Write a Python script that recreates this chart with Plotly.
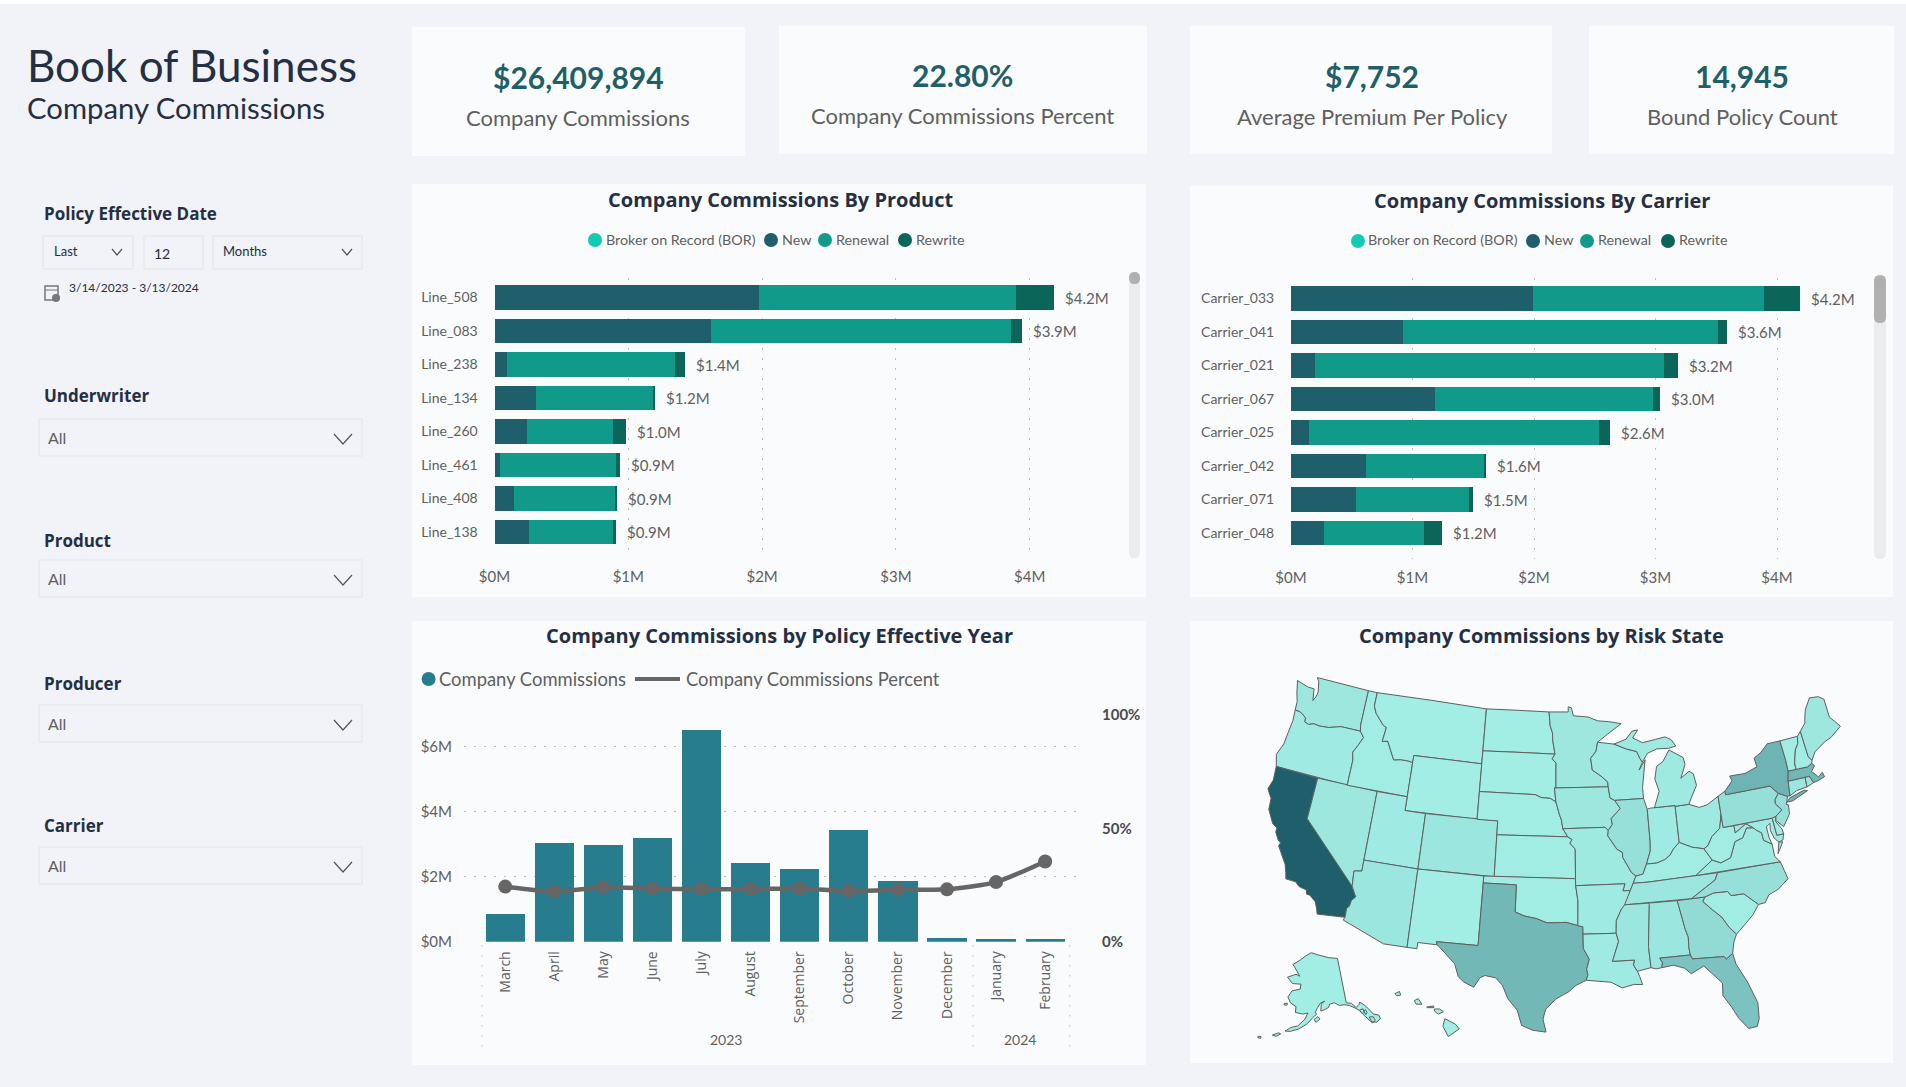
"""Book of Business dashboard rebuilt in Plotly"""

import plotly.graph_objects as go
from plotly.colors import sample_colorscale

WIDTH = 1906
HEIGHT = 1087

PAGE_BG = "#F1F3F8"
CARD_BG = "#FAFBFD"
DARK = "#252F43"
GREY = "#5F5F5F"
DIN = "Lato"
SEGOE = "Open Sans"

SEGMENTS = ["Broker on Record (BOR)", "New", "Renewal", "Rewrite"]
SEGMENT_COLORS = ["#13CBB5", "#1F5F6B", "#119A89", "#0B6559"]

products = ["Line_508", "Line_083", "Line_238", "Line_134", "Line_260", "Line_461", "Line_408", "Line_138"]
product_bor = [0, 0, 0, 0, 0, 0, 0, 0]
product_new = [1.975, 1.616, 0.09, 0.308, 0.246, 0.043, 0.149, 0.261]
product_renewal = [1.92, 2.243, 1.26, 0.877, 0.641, 0.862, 0.754, 0.627]
product_rewrite = [0.283, 0.08, 0.07, 0.018, 0.098, 0.036, 0.011, 0.018]

carriers = ["Carrier_033", "Carrier_041", "Carrier_021", "Carrier_067", "Carrier_025", "Carrier_042", "Carrier_071", "Carrier_048"]
carrier_bor = [0, 0, 0, 0, 0, 0, 0, 0]
carrier_new = [1.989, 0.922, 0.198, 1.185, 0.149, 0.617, 0.533, 0.27]
carrier_renewal = [1.901, 2.594, 2.869, 1.798, 2.385, 0.975, 0.933, 0.823]
carrier_rewrite = [0.297, 0.069, 0.118, 0.053, 0.091, 0.011, 0.03, 0.149]

months = ["March", "April", "May", "June", "July", "August", "September", "October", "November", "December", "January", "February"]
month_commissions = [0.85, 3.04, 2.97, 3.19, 6.51, 2.42, 2.24, 3.44, 1.87, 0.11, 0.08, 0.08]
month_percent = [24.3, 22.1, 24.0, 23.4, 23.2, 23.2, 23.5, 22.4, 22.9, 23.1, 26.3, 35.4]

kpi_values = ["$26,409,894", "22.80%", "$7,752", "14,945"]
kpi_labels = ["Company Commissions", "Company Commissions Percent", "Average Premium Per Policy", "Bound Policy Count"]

# shade of each state on a 0-100 scale, estimated from the map colours
state_shade = {
    "CA": 100, "TX": 37, "NY": 40, "MA": 38, "FL": 30, "GA": 13, "IL": 9, "PA": 10, "NC": 9, "NJ": 10, "CT": 5, "CO": 5,
    "WA": 4, "MN": 4, "AZ": 5, "AL": 5, "MS": 5, "ME": 4, "NV": 4, "IA": 4, "TN": 5, "MI": 3, "OR": 2, "MO": 3, "OH": 3, "VA": 3,
    "UT": 2, "ID": 1, "WI": 2, "IN": 2, "KY": 1, "LA": 2, "AR": 2, "OK": 1, "KS": 1, "NE": 1, "SC": 1, "WV": 1, "MD": 2, "DE": 1,
    "NH": 1, "VT": 1, "RI": 5, "MT": 0, "WY": 0, "NM": 0, "ND": 0, "SD": 0, "AK": 0, "HI": 0,
}

# state outlines (lon, lat), there is no offline basemap so these go through the geo projection as filled traces
state_outlines = {
    "WA": [[(-124.73, 48.38), (-123.5, 48.15), (-122.76, 48.14), (-122.55, 47.3), (-122.35, 47.6), (-122.25, 48.0), (-122.5, 48.75), (-122.76, 49.0),
            (-117.03, 49.0), (-117.04, 46.43), (-116.92, 46.0), (-118.98, 46.0), (-119.3, 45.93), (-120.2, 45.72), (-121.2, 45.65), (-121.8, 45.7),
            (-122.3, 45.55), (-122.75, 45.65), (-122.8, 45.95), (-123.2, 46.15), (-123.55, 46.26), (-124.05, 46.27), (-124.1, 46.9), (-124.4, 47.5)]],
    "OR": [[(-124.05, 46.27), (-123.55, 46.26), (-123.2, 46.15), (-122.8, 45.95), (-122.75, 45.65), (-122.3, 45.55), (-121.8, 45.7), (-121.2, 45.65),
            (-120.2, 45.72), (-119.3, 45.93), (-118.98, 46.0), (-116.92, 46.0), (-116.47, 45.6), (-116.85, 44.95), (-117.22, 44.4), (-117.03, 43.85),
            (-117.03, 42.0), (-124.21, 42.0), (-124.55, 42.84), (-124.15, 43.7), (-124.05, 44.7), (-123.95, 45.5)]],
    "CA": [[(-124.21, 42.0), (-120.0, 42.0), (-120.0, 39.0), (-114.63, 35.0), (-114.14, 34.3), (-114.45, 34.0), (-114.53, 33.55), (-114.72, 33.4),
            (-114.72, 32.72), (-117.12, 32.53), (-117.25, 32.85), (-117.5, 33.35), (-118.1, 33.73), (-118.4, 33.75), (-118.5, 34.03), (-119.2, 34.15),
            (-119.6, 34.42), (-120.5, 34.45), (-120.65, 34.9), (-120.9, 35.45), (-121.9, 36.6), (-121.8, 36.85), (-122.05, 36.95), (-122.5, 37.5),
            (-122.5, 37.8), (-122.97, 38.0), (-123.7, 38.9), (-123.8, 39.7), (-124.35, 40.3), (-124.1, 41.0)]],
    "NV": [[(-120.0, 42.0), (-114.04, 42.0), (-114.04, 36.2), (-114.74, 36.1), (-114.63, 35.0), (-120.0, 39.0)]],
    "ID": [[(-117.03, 49.0), (-116.05, 49.0), (-116.05, 48.0), (-115.7, 47.5), (-114.7, 46.75), (-114.35, 46.65), (-114.5, 45.6), (-113.95, 45.7),
            (-113.45, 45.05), (-113.0, 44.45), (-112.3, 44.55), (-111.5, 44.55), (-111.05, 44.48), (-111.05, 42.0), (-117.03, 42.0), (-117.03, 43.85),
            (-117.22, 44.4), (-116.85, 44.95), (-116.47, 45.6), (-116.92, 46.0), (-117.04, 46.43)]],
    "MT": [[(-116.05, 49.0), (-104.05, 49.0), (-104.05, 45.0), (-111.05, 45.0), (-111.05, 44.48), (-111.5, 44.55), (-112.3, 44.55), (-113.0, 44.45),
            (-113.45, 45.05), (-113.95, 45.7), (-114.5, 45.6), (-114.35, 46.65), (-114.7, 46.75), (-115.7, 47.5), (-116.05, 48.0)]],
    "WY": [[(-111.05, 45.0), (-104.05, 45.0), (-104.05, 41.0), (-111.05, 41.0)]],
    "UT": [[(-114.04, 42.0), (-111.05, 42.0), (-111.05, 41.0), (-109.05, 41.0), (-109.05, 37.0), (-114.04, 37.0)]],
    "CO": [[(-109.05, 41.0), (-102.05, 41.0), (-102.05, 37.0), (-109.05, 37.0)]],
    "AZ": [[(-114.04, 37.0), (-109.05, 37.0), (-109.05, 31.33), (-111.07, 31.33), (-114.81, 32.5), (-114.72, 32.72), (-114.72, 33.4), (-114.53, 33.55),
            (-114.45, 34.0), (-114.14, 34.3), (-114.63, 35.0), (-114.74, 36.1), (-114.04, 36.2)]],
    "NM": [[(-109.05, 37.0), (-103.0, 37.0), (-103.05, 32.0), (-106.62, 32.0), (-106.53, 31.78), (-108.2, 31.78), (-108.2, 31.33), (-109.05, 31.33)]],
    "ND": [[(-104.05, 49.0), (-97.23, 49.0), (-97.1, 48.0), (-96.85, 47.5), (-96.8, 46.9), (-96.56, 45.94), (-104.05, 45.94)]],
    "SD": [[(-104.05, 45.94), (-96.56, 45.94), (-96.85, 45.6), (-96.45, 45.3), (-96.45, 43.5), (-96.6, 43.5), (-96.44, 42.49), (-97.0, 42.75),
            (-97.9, 42.8), (-98.5, 43.0), (-104.05, 43.0)]],
    "NE": [[(-104.05, 43.0), (-98.5, 43.0), (-97.9, 42.8), (-97.0, 42.75), (-96.44, 42.49), (-96.1, 41.6), (-95.9, 41.2), (-95.77, 40.58), (-95.3, 40.0),
            (-102.05, 40.0), (-102.05, 41.0), (-104.05, 41.0)]],
    "KS": [[(-102.05, 40.0), (-95.3, 40.0), (-94.9, 39.8), (-95.1, 39.55), (-94.61, 39.11), (-94.62, 37.0), (-102.05, 37.0)]],
    "OK": [[(-103.0, 37.0), (-94.62, 37.0), (-94.62, 36.5), (-94.43, 35.39), (-94.48, 33.64), (-95.5, 33.88), (-96.6, 33.85), (-97.2, 33.85), (-98.1, 34.13),
            (-99.2, 34.3), (-100.0, 34.56), (-100.0, 36.5), (-103.0, 36.5)]],
    "TX": [[(-103.0, 36.5), (-100.0, 36.5), (-100.0, 34.56), (-99.2, 34.3), (-98.1, 34.13), (-97.2, 33.85), (-96.6, 33.85), (-95.5, 33.88), (-94.48, 33.64),
            (-94.04, 33.55), (-94.04, 33.02), (-94.04, 32.0), (-93.55, 31.2), (-93.8, 30.5), (-93.7, 30.1), (-93.85, 29.7), (-94.7, 29.35), (-95.3, 28.9),
            (-96.4, 28.35), (-97.2, 27.6), (-97.4, 26.9), (-97.15, 25.96), (-98.2, 26.07), (-99.1, 26.4), (-99.5, 27.5), (-100.3, 28.3), (-100.8, 29.25),
            (-101.4, 29.77), (-102.3, 29.88), (-102.7, 29.7), (-103.15, 28.98), (-104.0, 29.3), (-104.5, 29.65), (-104.9, 30.55), (-106.0, 31.4),
            (-106.53, 31.78), (-106.62, 32.0), (-103.05, 32.0)]],
    "MN": [[(-97.23, 49.0), (-95.15, 49.0), (-95.15, 49.38), (-94.8, 49.3), (-94.6, 48.72), (-93.0, 48.6), (-92.0, 48.3), (-90.8, 48.2), (-89.5, 48.0),
            (-91.0, 47.3), (-92.1, 46.75), (-92.3, 46.1), (-92.88, 45.6), (-92.75, 44.75), (-91.9, 44.3), (-91.25, 43.85), (-91.22, 43.5), (-96.45, 43.5),
            (-96.45, 45.3), (-96.85, 45.6), (-96.56, 45.94), (-96.8, 46.9), (-96.85, 47.5), (-97.1, 48.0)]],
    "IA": [[(-96.6, 43.5), (-91.22, 43.5), (-91.1, 42.7), (-90.65, 42.5), (-90.15, 41.9), (-91.1, 41.2), (-91.0, 40.8), (-91.42, 40.38), (-91.73, 40.61),
            (-95.77, 40.58), (-95.9, 41.2), (-96.1, 41.6), (-96.44, 42.49)]],
    "MO": [[(-95.77, 40.58), (-91.73, 40.61), (-91.42, 40.38), (-91.5, 40.0), (-90.7, 39.0), (-90.2, 38.75), (-90.2, 38.4), (-89.5, 37.3), (-89.1, 37.0),
            (-89.4, 36.5), (-89.7, 36.0), (-90.37, 36.0), (-90.15, 36.5), (-94.62, 36.5), (-94.62, 37.0), (-94.61, 39.11), (-95.1, 39.55), (-94.9, 39.8), (-95.3, 40.0)]],
    "AR": [[(-94.62, 36.5), (-90.15, 36.5), (-90.37, 36.0), (-89.7, 36.0), (-90.1, 35.1), (-90.6, 34.7), (-91.1, 33.9), (-91.17, 33.0), (-94.04, 33.02),
            (-94.04, 33.55), (-94.48, 33.64), (-94.43, 35.39)]],
    "LA": [[(-94.04, 33.02), (-91.17, 33.0), (-91.0, 32.4), (-91.6, 31.0), (-89.73, 31.0), (-89.85, 30.65), (-89.55, 30.18), (-89.4, 29.8), (-89.2, 29.2),
            (-89.9, 29.25), (-90.9, 29.05), (-91.8, 29.5), (-92.3, 29.55), (-93.85, 29.7), (-93.7, 30.1), (-93.8, 30.5), (-93.55, 31.2), (-94.04, 32.0)]],
    "WI": [[(-92.1, 46.75), (-90.4, 46.55), (-89.1, 46.13), (-88.1, 45.9), (-87.8, 45.35), (-87.6, 45.1), (-88.0, 44.55), (-87.3, 45.25), (-87.55, 44.3),
            (-87.8, 43.3), (-87.8, 42.49), (-90.65, 42.5), (-91.1, 42.7), (-91.22, 43.5), (-91.25, 43.85), (-91.9, 44.3), (-92.75, 44.75), (-92.88, 45.6), (-92.3, 46.1)]],
    "IL": [[(-90.65, 42.5), (-87.8, 42.49), (-87.53, 41.7), (-87.53, 39.35), (-87.6, 38.7), (-88.05, 37.8), (-88.45, 37.1), (-89.1, 37.0), (-89.5, 37.3),
            (-90.2, 38.4), (-90.2, 38.75), (-90.7, 39.0), (-91.5, 40.0), (-91.42, 40.38), (-91.0, 40.8), (-91.1, 41.2), (-90.15, 41.9)]],
    "IN": [[(-87.53, 41.7), (-87.2, 41.76), (-86.82, 41.76), (-84.8, 41.76), (-84.82, 39.1), (-85.4, 38.7), (-85.8, 38.28), (-86.3, 38.0), (-87.1, 37.8),
            (-88.05, 37.8), (-87.6, 38.7), (-87.53, 39.35)]],
    "OH": [[(-84.8, 41.7), (-83.45, 41.72), (-82.5, 41.4), (-81.7, 41.5), (-80.52, 41.98), (-80.52, 40.64), (-80.85, 39.7), (-81.7, 39.2), (-82.2, 38.6),
            (-82.6, 38.42), (-83.7, 38.65), (-84.82, 39.1)]],
    "KY": [[(-89.4, 36.5), (-89.1, 37.0), (-88.45, 37.1), (-88.05, 37.8), (-87.1, 37.8), (-86.3, 38.0), (-85.8, 38.28), (-85.4, 38.7), (-84.82, 39.1),
            (-83.7, 38.65), (-82.6, 38.42), (-82.0, 37.54), (-83.68, 36.6), (-88.07, 36.5)]],
    "TN": [[(-90.3, 35.0), (-89.7, 36.0), (-89.4, 36.5), (-88.07, 36.5), (-83.68, 36.6), (-81.68, 36.59), (-82.0, 36.1), (-84.32, 35.0)]],
    "MS": [[(-90.3, 35.0), (-88.2, 35.0), (-88.1, 34.9), (-88.47, 31.9), (-88.4, 30.37), (-89.55, 30.18), (-89.85, 30.65), (-89.73, 31.0), (-91.6, 31.0),
            (-91.0, 32.4), (-91.17, 33.0), (-91.1, 33.9), (-90.6, 34.7)]],
    "AL": [[(-88.2, 35.0), (-85.6, 34.98), (-85.18, 32.87), (-85.0, 32.3), (-85.05, 31.55), (-85.0, 31.0), (-87.6, 31.0), (-87.4, 30.65), (-87.5, 30.3),
            (-88.0, 30.25), (-88.4, 30.37), (-88.47, 31.9), (-88.1, 34.9)]],
    "GA": [[(-85.6, 34.98), (-83.11, 35.0), (-83.35, 34.7), (-82.6, 34.0), (-81.9, 33.4), (-81.4, 32.6), (-80.87, 32.03), (-81.2, 31.5), (-81.45, 30.7),
            (-82.05, 30.36), (-82.2, 30.57), (-84.86, 30.7), (-85.0, 31.0), (-85.05, 31.55), (-85.0, 32.3), (-85.18, 32.87)]],
    "FL": [[(-87.6, 31.0), (-85.0, 31.0), (-84.86, 30.7), (-82.2, 30.57), (-82.05, 30.36), (-81.45, 30.7), (-81.3, 29.9), (-80.6, 28.5), (-80.05, 26.9),
            (-80.15, 25.75), (-80.4, 25.2), (-81.1, 25.15), (-81.75, 26.0), (-82.2, 26.9), (-82.75, 27.8), (-82.65, 28.7), (-83.4, 29.5), (-84.0, 30.1),
            (-85.1, 29.65), (-85.6, 30.1), (-86.5, 30.4), (-87.5, 30.3), (-87.4, 30.65)]],
    "SC": [[(-83.11, 35.0), (-82.3, 35.2), (-81.05, 35.15), (-80.8, 34.82), (-79.67, 34.8), (-78.55, 33.86), (-79.2, 33.2), (-79.9, 32.7), (-80.87, 32.03),
            (-81.4, 32.6), (-81.9, 33.4), (-82.6, 34.0), (-83.35, 34.7)]],
    "NC": [[(-84.32, 35.0), (-83.11, 35.0), (-82.3, 35.2), (-81.05, 35.15), (-80.8, 34.82), (-79.67, 34.8), (-78.55, 33.86), (-77.95, 33.9), (-77.5, 34.4),
            (-76.6, 34.65), (-75.55, 35.25), (-75.9, 36.55), (-81.68, 36.59), (-82.0, 36.1)]],
    "VA": [[(-83.68, 36.6), (-75.9, 36.55), (-76.3, 37.0), (-76.3, 37.9), (-77.0, 38.3), (-77.05, 38.85), (-77.5, 39.12), (-77.72, 39.32), (-78.35, 39.4),
            (-78.87, 38.76), (-79.65, 38.58), (-80.3, 37.5), (-81.25, 37.25), (-82.0, 37.54)],
           [(-75.95, 37.15), (-75.65, 37.95), (-75.3, 37.9)]],
    "WV": [[(-82.6, 38.42), (-82.2, 38.6), (-81.7, 39.2), (-80.85, 39.7), (-80.52, 40.64), (-80.52, 39.72), (-79.48, 39.72), (-79.48, 39.2), (-78.35, 39.7),
            (-77.72, 39.32), (-78.35, 39.4), (-78.87, 38.76), (-79.65, 38.58), (-80.3, 37.5), (-81.25, 37.25), (-82.0, 37.54)]],
    "MD": [[(-79.48, 39.72), (-75.79, 39.72), (-75.7, 38.46), (-75.05, 38.45), (-75.25, 38.03), (-75.65, 37.95), (-76.0, 38.3), (-76.2, 38.9), (-76.1, 39.4),
            (-76.5, 39.2), (-76.45, 38.4), (-76.3, 37.9), (-77.0, 38.3), (-77.05, 38.85), (-77.5, 39.12), (-77.72, 39.32), (-78.35, 39.7), (-79.48, 39.2)]],
    "DE": [[(-75.79, 39.72), (-75.4, 39.8), (-75.55, 39.45), (-75.1, 38.8), (-75.05, 38.45), (-75.7, 38.46)]],
    "PA": [[(-80.52, 41.98), (-79.76, 42.27), (-79.76, 42.0), (-75.35, 42.0), (-74.7, 41.36), (-75.13, 40.98), (-75.2, 40.68), (-74.72, 40.15), (-75.4, 39.8),
            (-75.79, 39.72), (-80.52, 39.72)]],
    "NJ": [[(-74.7, 41.36), (-73.9, 41.0), (-74.2, 40.45), (-74.0, 40.4), (-74.1, 39.75), (-74.9, 38.95), (-75.5, 39.5), (-75.4, 39.8), (-74.72, 40.15),
            (-75.2, 40.68), (-75.13, 40.98)]],
    "NY": [[(-79.76, 42.0), (-75.35, 42.0), (-74.7, 41.36), (-73.9, 41.0), (-73.65, 41.0), (-73.5, 42.05), (-73.26, 42.75), (-73.25, 43.55), (-73.35, 45.0),
            (-74.7, 45.0), (-75.5, 44.5), (-76.3, 44.2), (-76.2, 43.55), (-77.5, 43.25), (-79.05, 43.27), (-78.9, 42.9), (-79.76, 42.27)],
           [(-74.05, 40.6), (-73.75, 40.85), (-72.2, 41.15), (-71.9, 41.05), (-73.5, 40.6)]],
    "CT": [[(-73.65, 41.0), (-73.5, 42.05), (-71.8, 42.02), (-71.85, 41.32), (-72.9, 41.25)]],
    "RI": [[(-71.8, 42.02), (-71.38, 42.02), (-71.12, 41.5), (-71.85, 41.32)]],
    "MA": [[(-73.5, 42.05), (-73.26, 42.75), (-72.46, 42.73), (-71.3, 42.7), (-70.82, 42.87), (-70.6, 42.65), (-71.05, 42.3), (-70.65, 41.95), (-70.53, 41.78),
            (-70.05, 42.05), (-69.95, 41.7), (-70.65, 41.55), (-71.12, 41.5), (-71.38, 42.02), (-71.8, 42.02)]],
    "VT": [[(-73.35, 45.0), (-71.5, 45.01), (-71.65, 44.5), (-72.05, 44.1), (-72.45, 43.2), (-72.46, 42.73), (-73.26, 42.75), (-73.25, 43.55)]],
    "NH": [[(-71.5, 45.01), (-71.08, 45.3), (-70.98, 43.4), (-70.7, 43.07), (-70.82, 42.87), (-71.3, 42.7), (-72.46, 42.73), (-72.45, 43.2), (-72.05, 44.1), (-71.65, 44.5)]],
    "ME": [[(-71.08, 45.3), (-70.4, 45.8), (-70.25, 46.2), (-70.0, 46.7), (-69.23, 47.46), (-68.3, 47.36), (-67.8, 47.07), (-67.8, 45.7), (-67.4, 45.3),
            (-67.0, 44.85), (-68.2, 44.3), (-69.0, 44.1), (-70.2, 43.6), (-70.7, 43.07), (-70.98, 43.4)]],
    "MI": [[(-86.82, 41.76), (-84.8, 41.76), (-84.8, 41.7), (-83.45, 41.72), (-83.1, 42.2), (-82.45, 43.0), (-82.6, 43.85), (-83.0, 44.07), (-83.9, 43.65),
            (-83.3, 44.6), (-83.4, 45.1), (-84.75, 45.78), (-85.5, 45.0), (-86.2, 44.7), (-86.5, 43.8), (-86.2, 42.9)],
           [(-90.4, 46.55), (-89.1, 46.85), (-88.4, 47.4), (-87.8, 47.45), (-88.4, 46.9), (-87.4, 46.5), (-86.0, 46.65), (-85.0, 46.75), (-84.4, 46.5),
            (-84.0, 46.0), (-84.75, 45.9), (-86.0, 45.95), (-87.0, 45.7), (-87.6, 45.1), (-87.8, 45.35), (-88.1, 45.9), (-89.1, 46.13)]],
    "HI": [[(-155.9, 20.25), (-155.1, 19.85), (-154.8, 19.5), (-155.65, 18.95), (-156.05, 19.7)],
           [(-156.7, 20.95), (-156.3, 20.95), (-156.0, 20.75), (-156.4, 20.58), (-156.7, 20.8)],
           [(-158.25, 21.55), (-157.95, 21.7), (-157.65, 21.3), (-158.1, 21.3)],
           [(-159.75, 22.05), (-159.4, 22.22), (-159.3, 21.95), (-159.6, 21.9)],
           [(-157.3, 21.1), (-156.75, 21.17), (-156.75, 21.05), (-157.25, 21.05)]],
    "AK": [[(-141.0, 69.65), (-141.0, 60.3), (-139.0, 60.0), (-137.5, 58.9), (-136.0, 59.4), (-135.5, 59.8), (-134.0, 58.9), (-133.4, 58.4), (-131.8, 56.6),
            (-130.0, 56.0), (-130.0, 55.2), (-131.6, 54.8), (-133.5, 55.2), (-134.5, 56.2), (-135.7, 57.3), (-136.6, 58.2), (-138.0, 58.9), (-139.9, 59.6),
            (-142.0, 60.0), (-144.0, 60.0), (-146.0, 60.7), (-148.0, 60.5), (-148.5, 59.9), (-150.0, 59.5), (-151.8, 59.2), (-151.5, 60.7), (-150.0, 61.2),
            (-152.0, 60.8), (-153.0, 60.0), (-154.0, 59.0), (-153.5, 58.6), (-155.0, 57.9), (-157.0, 56.6), (-160.0, 55.4), (-163.0, 54.7), (-164.8, 54.6),
            (-163.0, 55.5), (-160.5, 56.0), (-158.0, 57.5), (-157.0, 58.8), (-159.0, 58.5), (-162.0, 58.7), (-162.0, 59.9), (-164.5, 60.5), (-166.0, 61.6),
            (-164.7, 63.0), (-161.0, 63.6), (-161.0, 64.6), (-165.0, 64.5), (-168.0, 65.6), (-164.0, 66.5), (-162.0, 66.2), (-163.8, 67.2), (-166.5, 68.4),
            (-163.0, 69.5), (-160.0, 70.5), (-156.6, 71.3), (-152.0, 70.8), (-146.0, 70.1)],
           [(-154.5, 57.5), (-153.0, 58.1), (-152.2, 57.6), (-153.8, 56.9)],
           [(-167.0, 60.2), (-165.7, 60.3), (-165.8, 59.9), (-167.0, 59.9)],
           [(-134.9, 57.8), (-134.2, 58.0), (-133.9, 57.3), (-134.6, 57.0)],
           [(-133.6, 56.3), (-132.2, 56.1), (-131.9, 55.3), (-133.2, 54.9)],
           [(-136.4, 58.2), (-135.0, 58.3), (-134.9, 57.5), (-135.8, 57.4)],
           [(-173.5, 52.3), (-172.5, 52.4), (-172.5, 52.0), (-173.5, 52.0)],
           [(-168.9, 53.3), (-167.0, 54.0), (-166.2, 53.9), (-167.5, 53.2)]],
}


def fx(px):
    return px / WIDTH


def fy(py):
    return 1 - py / HEIGHT


fig = go.Figure()
shapes = []
texts = []


def card(x0, y0, x1, y1, color=CARD_BG, line=None):
    shapes.append(dict(type="rect", xref="paper", yref="paper", layer="below",
                       x0=fx(x0), x1=fx(x1), y0=fy(y0), y1=fy(y1), fillcolor=color,
                       line=dict(width=1.5 if line else 0, color=line or color)))


def label(x, y, text, size, color=GREY, family=DIN, anchor="left", weight=None):
    font = dict(size=size, color=color, family=family)
    if weight:
        font["weight"] = weight
    texts.append(dict(xref="paper", yref="paper", x=fx(x), y=fy(y), text=text, showarrow=False,
                      xanchor=anchor, yanchor="middle", font=font))


def dot(cx, cy, diameter, color):
    r = diameter / 2
    shapes.append(dict(type="circle", xref="paper", yref="paper", x0=fx(cx - r), x1=fx(cx + r),
                       y0=fy(cy - r), y1=fy(cy + r), fillcolor=color, line=dict(width=0)))


def chevron(cx, cy, half_w, half_h):
    path = f"M {fx(cx - half_w)} {fy(cy - half_h)} L {fx(cx)} {fy(cy + half_h)} L {fx(cx + half_w)} {fy(cy - half_h)}"
    shapes.append(dict(type="path", xref="paper", yref="paper", path=path, line=dict(color="#555555", width=1.2)))


def pill(x0, y0, x1, y1, color):
    r = (x1 - x0) / 2
    cx = (x0 + x1) / 2
    path = (f"M {fx(x0)} {fy(y0 + r)} Q {fx(x0)} {fy(y0)} {fx(cx)} {fy(y0)} Q {fx(x1)} {fy(y0)} {fx(x1)} {fy(y0 + r)} "
            f"L {fx(x1)} {fy(y1 - r)} Q {fx(x1)} {fy(y1)} {fx(cx)} {fy(y1)} Q {fx(x0)} {fy(y1)} {fx(x0)} {fy(y1 - r)} Z")
    shapes.append(dict(type="path", xref="paper", yref="paper", path=path, fillcolor=color, line=dict(width=0)))


# page furniture
card(0, 0, WIDTH, 4, "#FFFFFF")
for box in [(412, 27, 745, 156), (779, 26, 1147, 154), (1190, 26, 1552, 154), (1589, 26, 1894, 154),
            (412, 184, 1146, 597), (1190, 186, 1893, 597), (412, 621, 1146, 1065), (1190, 621, 1893, 1063)]:
    card(*box)

label(25, 65, "Book of Business", 44, DARK)
label(25, 107.5, "Company Commissions", 29.3, DARK)

for cx, vy, ly, value, name in zip([578, 963, 1372, 1742], [77, 75, 76, 76], [118, 115, 116, 116], kpi_values, kpi_labels):
    label(cx, vy, value, 30, "#1F6068", anchor="center", weight=700)
    label(cx, ly, name, 22, GREY, anchor="center")

# slicers
label(42, 213, "Policy Effective Date", 17, DARK, SEGOE, weight=700)
for x0, x1 in [(43, 133), (144, 203), (213, 362)]:
    card(x0, 236, x1, 269, PAGE_BG, "#E9EAED")
label(52, 251, "Last", 13, DARK)
label(152, 253, "12", 14, DARK)
label(221, 251, "Months", 13, DARK)
chevron(117, 252, 5, 3)
chevron(347, 252, 5, 3)
label(67, 287, "3/14/2023 - 3/13/2024", 12, DARK)
card(45, 286, 58, 300, PAGE_BG, "#777777")
shapes.append(dict(type="line", xref="paper", yref="paper", x0=fx(45), x1=fx(58), y0=fy(290), y1=fy(290),
                   line=dict(color="#777777", width=1)))
dot(56, 298, 8, "#777777")

for name, ly, y0 in [("Underwriter", 396, 419), ("Product", 540, 560), ("Producer", 683, 705), ("Carrier", 825, 847)]:
    label(42, ly, name, 17, DARK, SEGOE, weight=700)
    card(39, y0, 362, y0 + 37, PAGE_BG, "#E9EAED")
    label(46, y0 + 18.5, "All", 16, GREY)
    chevron(343, y0 + 20, 9, 5)


def stacked_panel(x_name, y_name, categories, series, x0_px, right_px, per_m, top_px, bottom_px, first_center, step):
    for name, color, vals in zip(SEGMENTS, SEGMENT_COLORS, series):
        fig.add_trace(go.Bar(orientation="h", y=categories, x=vals, name=name, marker=dict(color=color, line=dict(width=0)),
                             xaxis=x_name, yaxis=y_name, showlegend=False))
    totals = [sum(v) for v in zip(*series)]
    for cat, total in zip(categories, totals):
        texts.append(dict(xref=x_name, yref=y_name, x=total, y=cat, text=f"${total:.1f}M", showarrow=False,
                          xanchor="left", xshift=9, font=dict(size=15, color=GREY, family=DIN)))
    axis_x = dict(domain=[fx(x0_px), fx(right_px)], range=[0, (right_px - x0_px) / per_m], anchor=y_name,
                  tickvals=[0, 1, 2, 3, 4], ticktext=["$0M", "$1M", "$2M", "$3M", "$4M"], showgrid=True, griddash="1.5px,8.5px",
                  gridcolor="#BFBFBF", gridwidth=1, zeroline=False, showline=False, ticks="outside", ticklen=5,
                  tickcolor="rgba(0,0,0,0)", tickfont=dict(size=15, color=GREY, family=DIN))
    low = (bottom_px - first_center) / step
    high = (top_px - first_center) / step
    axis_y = dict(domain=[fy(bottom_px), fy(top_px)], range=[low, high], anchor=x_name, type="category",
                  categoryorder="array", categoryarray=categories, showgrid=False, zeroline=False, showline=False,
                  ticks="outside", ticklen=13, tickcolor="rgba(0,0,0,0)", tickfont=dict(size=14, color=GREY, family=DIN))
    return axis_x, axis_y


px_axis, py_axis = stacked_panel("x", "y", products, [product_bor, product_new, product_renewal, product_rewrite],
                                 494.5, 1120, 133.8, 278, 558, 297.5, 33.5)
cx_axis, cy_axis = stacked_panel("x2", "y2", carriers, [carrier_bor, carrier_new, carrier_renewal, carrier_rewrite],
                                 1291, 1870, 121.5, 278, 559, 298.5, 33.5)

label(780, 199, "Company Commissions By Product", 20, DARK, SEGOE, "center", 700)
label(1542, 200, "Company Commissions By Carrier", 20, DARK, SEGOE, "center", 700)
label(779, 636, "Company Commissions by Policy Effective Year", 20, DARK, SEGOE, "center", 700)
label(1541, 636, "Company Commissions by Risk State", 20, DARK, SEGOE, "center", 700)

for name, color, cx, tx in zip(SEGMENTS, SEGMENT_COLORS, [595, 771, 825, 905], [604, 780, 834, 914]):
    dot(cx, 240, 14, color)
    label(tx, 239, name, 14.3, GREY)
for name, color, cx, tx in zip(SEGMENTS, SEGMENT_COLORS, [1358, 1533, 1587, 1668], [1366, 1542, 1596, 1677]):
    dot(cx, 241, 14, color)
    label(tx, 240, name, 14.3, GREY)

pill(1129, 280, 1140, 558, "#EBECEE")
pill(1129, 272, 1140, 284, "#B0B0B0")
pill(1874, 275, 1886, 559, "#EBECEE")
pill(1874, 275, 1886, 323, "#B0B0B0")

# monthly combo chart
fig.add_trace(go.Bar(x=months, y=month_commissions, name="Company Commissions", marker=dict(color="#277C8E", line=dict(width=0)),
                     xaxis="x3", yaxis="y3", width=0.8, showlegend=False))
fig.add_trace(go.Scatter(x=months, y=month_percent, name="Company Commissions Percent", mode="lines+markers",
                         line=dict(color="#666666", width=4.5, shape="spline", smoothing=0.6), marker=dict(size=14, color="#666666"),
                         xaxis="x3", yaxis="y4", showlegend=False))
dot(428.6, 679, 14, "#277C8E")
label(437, 679, "Company Commissions", 18.4, GREY)
shapes.append(dict(type="line", xref="paper", yref="paper", x0=fx(635), x1=fx(680), y0=fy(679), y1=fy(679),
                   line=dict(color="#666666", width=4)))
label(684, 679, "Company Commissions Percent", 18.4, GREY)
for month_edge in [-0.47, 9.53, 11.5]:
    shapes.append(dict(type="line", xref="x3", yref="paper", x0=month_edge, x1=month_edge, y0=fy(945), y1=fy(1047),
                       line=dict(color="#BFBFBF", width=1, dash="1.5px,8.5px")))
label(726, 1039, "2023", 14, GREY, anchor="center")
label(1020, 1039, "2024", 14, GREY, anchor="center")


# risk state map
def clockwise(ring):
    area = sum(a[0] * b[1] - b[0] * a[1] for a, b in zip(ring, ring[1:] + ring[:1]))
    return ring if area < 0 else ring[::-1]


shade_scale = [[0, "#A2EDE4"], [1, "#1F5F6B"]]
for state, parts in state_outlines.items():
    lons, lats = [], []
    for ring in parts:
        ring = clockwise(ring)
        lons += [p[0] for p in ring] + [ring[0][0], None]
        lats += [p[1] for p in ring] + [ring[0][1], None]
    fig.add_trace(go.Scattergeo(lon=lons, lat=lats, mode="lines", fill="toself", name=state, showlegend=False,
                                fillcolor=sample_colorscale(shade_scale, state_shade[state] / 100)[0],
                                line=dict(color="#5F5F5F", width=1), hoverinfo="name"))

fig.update_layout(
    width=WIDTH,
    height=HEIGHT,
    margin=dict(l=0, r=0, t=0, b=0, pad=0, autoexpand=False),
    paper_bgcolor=PAGE_BG,
    plot_bgcolor="rgba(0,0,0,0)",
    barmode="stack",
    bargap=0.28,
    showlegend=False,
    xaxis=px_axis,
    yaxis=py_axis,
    xaxis2=cx_axis,
    yaxis2=cy_axis,
    xaxis3=dict(domain=[fx(464), fx(1080)], range=[-0.84, 11.71], anchor="y3", tickangle=-90, showgrid=False, zeroline=False,
                showline=False, ticks="outside", ticklen=3, tickcolor="rgba(0,0,0,0)",
                tickfont=dict(size=14, color=GREY, family=SEGOE)),
    yaxis3=dict(domain=[fy(941.7), fy(715)], range=[0, 6.975], anchor="x3", tickvals=[0, 2, 4, 6],
                ticktext=["$0M", "$2M", "$4M", "$6M"], showgrid=True, griddash="1.5px,8.5px", gridcolor="#BFBFBF", gridwidth=1,
                zeroline=False, showline=False, ticks="outside", ticklen=8, tickcolor="rgba(0,0,0,0)",
                tickfont=dict(size=15, color=GREY, family=DIN)),
    yaxis4=dict(domain=[fy(941.7), fy(715)], range=[0, 100], anchor="x3", overlaying="y3", side="right", tickvals=[0, 50, 100],
                ticktext=["0%", "50%", "100%"], showgrid=False, zeroline=False, showline=False, ticks="outside", ticklen=18,
                tickcolor="rgba(0,0,0,0)", tickfont=dict(size=15, color="#4A4A4A", family=DIN, weight=700)),
    geo=dict(domain=dict(x=[fx(1202), fx(1906)], y=[fy(1070), fy(640)]), scope="usa", projection=dict(type="albers usa", scale=1.026),
             bgcolor="rgba(0,0,0,0)", showlakes=False, showland=False, showcoastlines=False, showsubunits=False, showframe=False,
             showcountries=False, showocean=False, showrivers=False),
    shapes=shapes,
    annotations=texts,
)

fig.write_html("out.html", config=dict(displayModeBar=False), post_script="document.body.style.margin='0';document.body.style.overflow='hidden';")
